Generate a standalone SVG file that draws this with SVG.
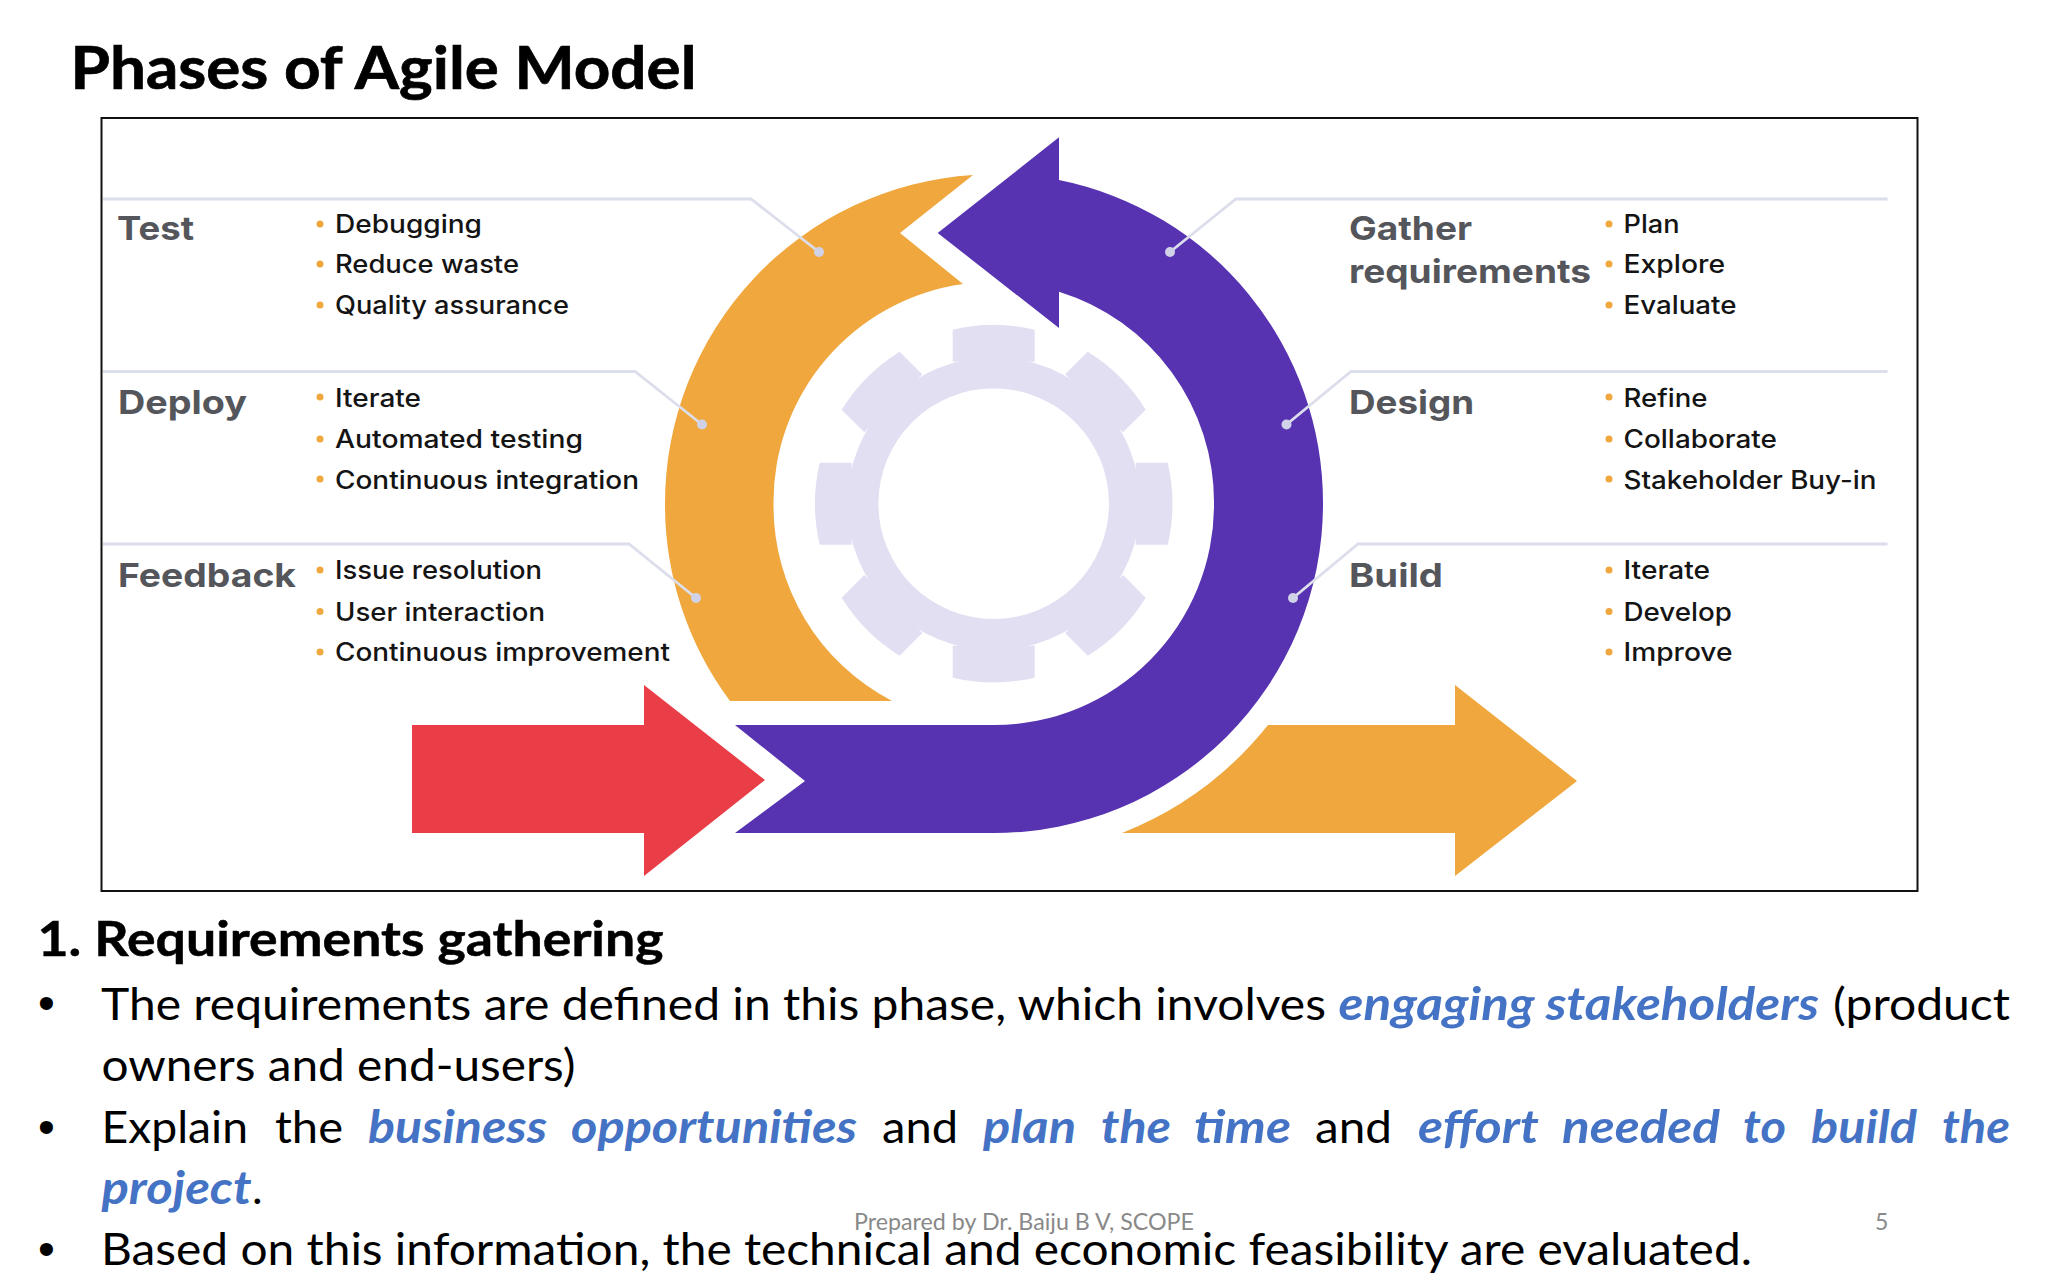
<svg xmlns="http://www.w3.org/2000/svg" xmlns:xlink="http://www.w3.org/1999/xlink" width="2048" height="1280" viewBox="0 0 2048 1280">
<style>
text{font-family:"Lato","Carlito","Liberation Sans",sans-serif;fill:#000;white-space:pre}
.title{font-size:60px;font-weight:700;stroke:#000;stroke-width:.7}
.h2{font-size:48px;font-weight:700;stroke:#000;stroke-width:.5}
.b{font-size:45px}
.bl{fill:#4472c4;font-weight:700;font-style:italic}
.dot{font-family:"Liberation Sans",sans-serif;font-size:48px}
.ft{font-size:23px;fill:#898989}
.hd{font-family:"Inter","Liberation Sans",sans-serif;font-size:33px;font-weight:700;fill:#54565b}
.it{font-family:"Inter","Liberation Sans",sans-serif;font-size:25px;font-weight:500;fill:#141414}
.bu{fill:#efa73e}
.ld{fill:none;stroke:#dcdeec;stroke-width:2.8}
.pt{fill:#d0d2e8}
.or{fill:#efa73e}.pu{fill:#5733b1}.re{fill:#e93e47}.ge{fill:#e3dff3}
</style>
<defs>
<path id="tooth" class="ge" d="M-41,-142V-174A178.7,178.7 0 0 1 41,-174V-142Z"/>
</defs>
<rect width="2048" height="1280" fill="#fff"/>
<text class="title" x="70.5" y="89" textLength="626" lengthAdjust="spacingAndGlyphs">Phases of Agile Model</text>
<rect id="frame" x="101.5" y="118" width="1816" height="773" fill="#fff" stroke="#111" stroke-width="2"/>

<g id="gear">
<circle class="ge" cx="993.7" cy="503.7" r="146.5"/>
<g transform="translate(993.7 503.7)">
<use xlink:href="#tooth" href="#tooth"/>
<use xlink:href="#tooth" href="#tooth" transform="rotate(45)"/>
<use xlink:href="#tooth" href="#tooth" transform="rotate(90)"/>
<use xlink:href="#tooth" href="#tooth" transform="rotate(135)"/>
<use xlink:href="#tooth" href="#tooth" transform="rotate(180)"/>
<use xlink:href="#tooth" href="#tooth" transform="rotate(225)"/>
<use xlink:href="#tooth" href="#tooth" transform="rotate(270)"/>
<use xlink:href="#tooth" href="#tooth" transform="rotate(315)"/>
</g>
<circle cx="993.7" cy="503.7" r="115.3" fill="#fff"/>
</g>
<path id="arc-orange" class="or" d="M973,175L900,233L963,284A220,220 0 0 0 773.5,504A220,220 0 0 0 892,701L730,701A329,329 0 0 1 665,504A329,329 0 0 1 973,175Z"/>
<path id="arc-purple" class="pu" d="M735,725L805,781L735,833L994,833A329,329 0 0 0 1323,504A329,329 0 0 0 1059,180L1059,137.3L937.7,233L1059,328L1059,291.7A220,220 0 0 1 1214,504A220,220 0 0 1 994,725Z"/>
<path id="arrow-red" class="re" d="M412,725H644V685L765,780L644,876V833H412Z"/>
<path id="arrow-orange" class="or" d="M1122,833A353,353 0 0 0 1268,725H1455V685L1577,781L1455,876V833Z"/>

<g id="connectors">
<path class="ld" d="M103,199H751L819,252"/>
<path class="ld" d="M103,371.5H635L702,424.5"/>
<path class="ld" d="M103,544H629L696,598"/>
<path class="ld" d="M1887.5,199H1236L1170,252"/>
<path class="ld" d="M1887.5,371.5H1351L1286.5,424.5"/>
<path class="ld" d="M1887.5,544H1358L1293,598"/>
<circle class="pt" cx="819" cy="252" r="5"/>
<circle class="pt" cx="702" cy="424.5" r="5"/>
<circle class="pt" cx="696" cy="598" r="5"/>
<circle class="pt" cx="1170" cy="252" r="5"/>
<circle class="pt" cx="1286.5" cy="424.5" r="5"/>
<circle class="pt" cx="1293" cy="598" r="5"/>
</g>

<g id="node-test">
<text class="hd" x="117" y="240" textLength="77" lengthAdjust="spacingAndGlyphs">Test</text>
<circle class="bu" cx="320" cy="224" r="3.5"/><text class="it" x="335" y="232.5" textLength="147" lengthAdjust="spacingAndGlyphs">Debugging</text>
<circle class="bu" cx="320" cy="264" r="3.5"/><text class="it" x="335" y="272.5" textLength="184" lengthAdjust="spacingAndGlyphs">Reduce waste</text>
<circle class="bu" cx="320" cy="305" r="3.5"/><text class="it" x="335" y="313.5" textLength="234" lengthAdjust="spacingAndGlyphs">Quality assurance</text>
</g>
<g id="node-deploy">
<text class="hd" x="118" y="413.5" textLength="129" lengthAdjust="spacingAndGlyphs">Deploy</text>
<circle class="bu" cx="320" cy="397" r="3.5"/><text class="it" x="335" y="406.5" textLength="86" lengthAdjust="spacingAndGlyphs">Iterate</text>
<circle class="bu" cx="320" cy="439" r="3.5"/><text class="it" x="335" y="448" textLength="248" lengthAdjust="spacingAndGlyphs">Automated testing</text>
<circle class="bu" cx="320" cy="479" r="3.5"/><text class="it" x="335" y="488.5" textLength="304" lengthAdjust="spacingAndGlyphs">Continuous integration</text>
</g>
<g id="node-feedback">
<text class="hd" x="118" y="586.5" textLength="178" lengthAdjust="spacingAndGlyphs">Feedback</text>
<circle class="bu" cx="320" cy="570" r="3.5"/><text class="it" x="335" y="579" textLength="207" lengthAdjust="spacingAndGlyphs">Issue resolution</text>
<circle class="bu" cx="320" cy="611.5" r="3.5"/><text class="it" x="335" y="621" textLength="210" lengthAdjust="spacingAndGlyphs">User interaction</text>
<circle class="bu" cx="320" cy="652" r="3.5"/><text class="it" x="335" y="661" textLength="335" lengthAdjust="spacingAndGlyphs">Continuous improvement</text>
</g>
<g id="node-gather">
<text class="hd" x="1349" y="240" textLength="123" lengthAdjust="spacingAndGlyphs">Gather</text>
<text class="hd" x="1349" y="282.5" textLength="242" lengthAdjust="spacingAndGlyphs">requirements</text>
<circle class="bu" cx="1609" cy="224" r="3.5"/><text class="it" x="1623.5" y="232.5" textLength="56" lengthAdjust="spacingAndGlyphs">Plan</text>
<circle class="bu" cx="1609" cy="264" r="3.5"/><text class="it" x="1623.5" y="272.5" textLength="101.5" lengthAdjust="spacingAndGlyphs">Explore</text>
<circle class="bu" cx="1609" cy="305" r="3.5"/><text class="it" x="1623.5" y="313.5" textLength="113" lengthAdjust="spacingAndGlyphs">Evaluate</text>
</g>
<g id="node-design">
<text class="hd" x="1349" y="413.5" textLength="125" lengthAdjust="spacingAndGlyphs">Design</text>
<circle class="bu" cx="1609" cy="397" r="3.5"/><text class="it" x="1623.5" y="406.5" textLength="84" lengthAdjust="spacingAndGlyphs">Refine</text>
<circle class="bu" cx="1609" cy="439" r="3.5"/><text class="it" x="1623.5" y="448" textLength="153.5" lengthAdjust="spacingAndGlyphs">Collaborate</text>
<circle class="bu" cx="1609" cy="479" r="3.5"/><text class="it" x="1623.5" y="488.5" textLength="253" lengthAdjust="spacingAndGlyphs">Stakeholder Buy-in</text>
</g>
<g id="node-build">
<text class="hd" x="1349" y="586.5" textLength="94" lengthAdjust="spacingAndGlyphs">Build</text>
<circle class="bu" cx="1609" cy="570" r="3.5"/><text class="it" x="1623.5" y="579" textLength="86.5" lengthAdjust="spacingAndGlyphs">Iterate</text>
<circle class="bu" cx="1609" cy="611.5" r="3.5"/><text class="it" x="1623.5" y="621" textLength="108.5" lengthAdjust="spacingAndGlyphs">Develop</text>
<circle class="bu" cx="1609" cy="652" r="3.5"/><text class="it" x="1623.5" y="661" textLength="109" lengthAdjust="spacingAndGlyphs">Improve</text>
</g>

<g id="body">
<text class="h2" x="37.5" y="956" textLength="626" lengthAdjust="spacingAndGlyphs">1. Requirements gathering</text>
<text class="dot" x="46.5" y="1019" text-anchor="middle">•</text>
<text class="b" x="101" y="1019.5" textLength="1225" lengthAdjust="spacingAndGlyphs">The requirements are defined in this phase, which involves</text>
<text class="b bl" x="1338.5" y="1019.5" textLength="480.5" lengthAdjust="spacingAndGlyphs">engaging stakeholders</text>
<text class="b" x="1833" y="1019.5" textLength="177" lengthAdjust="spacingAndGlyphs">(product</text>
<text class="b" x="101.5" y="1081" textLength="474" lengthAdjust="spacingAndGlyphs">owners and end-users)</text>
<text class="dot" x="46.5" y="1142.5" text-anchor="middle">•</text>
<text class="b" x="101.5" y="1143" textLength="146.5" lengthAdjust="spacingAndGlyphs">Explain</text>
<text class="b" x="275" y="1143" textLength="68" lengthAdjust="spacingAndGlyphs">the</text>
<text class="b bl" x="368" y="1143" textLength="179" lengthAdjust="spacingAndGlyphs">business</text>
<text class="b bl" x="571" y="1143" textLength="286" lengthAdjust="spacingAndGlyphs">opportunities</text>
<text class="b" x="882" y="1143" textLength="76" lengthAdjust="spacingAndGlyphs">and</text>
<text class="b bl" x="983" y="1143" textLength="93" lengthAdjust="spacingAndGlyphs">plan</text>
<text class="b bl" x="1101" y="1143" textLength="70" lengthAdjust="spacingAndGlyphs">the</text>
<text class="b bl" x="1194" y="1143" textLength="97" lengthAdjust="spacingAndGlyphs">time</text>
<text class="b" x="1315" y="1143" textLength="77" lengthAdjust="spacingAndGlyphs">and</text>
<text class="b bl" x="1418" y="1143" textLength="121" lengthAdjust="spacingAndGlyphs">effort</text>
<text class="b bl" x="1562" y="1143" textLength="158" lengthAdjust="spacingAndGlyphs">needed</text>
<text class="b bl" x="1743" y="1143" textLength="43" lengthAdjust="spacingAndGlyphs">to</text>
<text class="b bl" x="1811" y="1143" textLength="106" lengthAdjust="spacingAndGlyphs">build</text>
<text class="b bl" x="1942" y="1143" textLength="68" lengthAdjust="spacingAndGlyphs">the</text>
<text class="b bl" x="101.5" y="1204" textLength="150" lengthAdjust="spacingAndGlyphs">project</text>
<text class="b" x="252" y="1204">.</text>
<text class="dot" x="46.5" y="1265" text-anchor="middle">•</text>
<text class="b" x="101" y="1264.5" textLength="1651" lengthAdjust="spacingAndGlyphs">Based on this information, the technical and economic feasibility are evaluated.</text>
</g>
<g id="footer">
<text class="ft" x="854" y="1230" textLength="340" lengthAdjust="spacingAndGlyphs">Prepared by Dr. Baiju B V, SCOPE</text>
<text class="ft" x="1875" y="1230">5</text>
</g>
</svg>
